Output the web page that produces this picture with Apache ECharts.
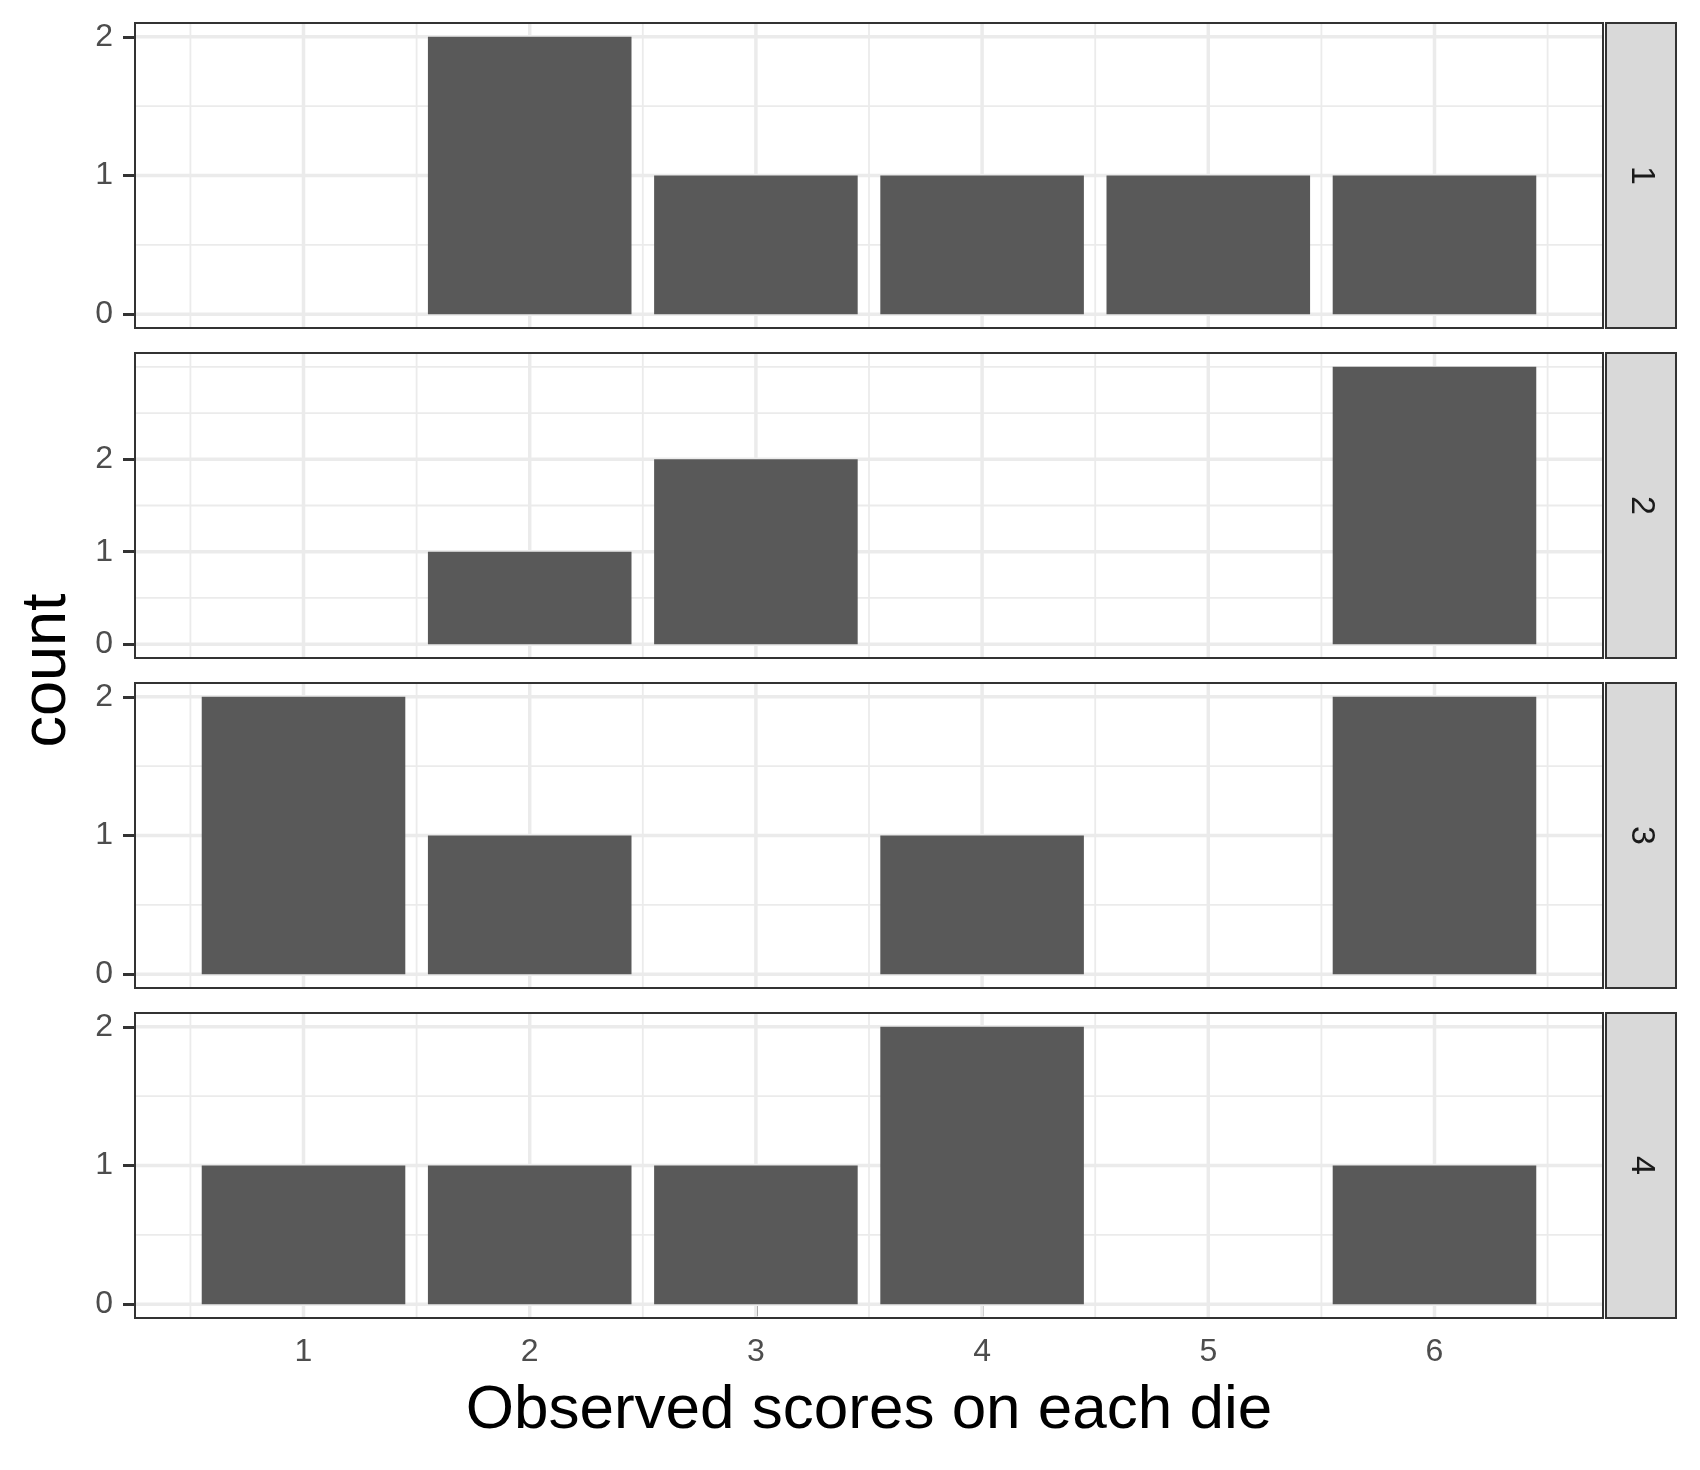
<!doctype html>
<html lang="en">
<head>
    <meta charset="UTF-8">
    <title>Observed scores on each die</title>
    <script src="https://cdn.jsdelivr.net/npm/echarts@6/dist/echarts.min.js"></script>
    <style>
        html, body { margin: 0; padding: 0; background: #fff; }
        #main { width: 1700px; height: 1470px; }
    </style>
</head>
<body>
<div id="main"></div>
<script type="text/javascript">
    // data: counts of each score (1..6) for each die
    var scores = [1, 2, 3, 4, 5, 6];
    var dieLabels = ['1', '2', '3', '4'];
    var die1 = [0, 2, 1, 1, 1, 1];
    var die2 = [0, 1, 2, 0, 0, 3];
    var die3 = [2, 1, 0, 1, 0, 2];
    var die4 = [1, 1, 1, 2, 0, 1];
    var yTickLabels = [0, 1, 2];
    var xMinorBreaks = [0.5, 1.5, 2.5, 3.5, 4.5, 5.5, 6.5];

    var counts = [die1, die2, die3, die4];
    var font = "'Liberation Sans', Arial, Helvetica, sans-serif";

    // panel layout
    var left = 135, right = 97, panelH = 305;
    var tops = [23, 353, 683, 1013];
    var stripX = 1606, stripW = 70;

    var myChart = echarts.init(document.getElementById('main'));

    function gridRender(params, api) {
        var v = api.value(0), kind = api.value(1);
        var cs = params.coordSys;
        var shape;
        if (kind < 2) {
            var x = api.coord([v, 0])[0];
            shape = {x1: x, y1: cs.y + 1, x2: x, y2: cs.y + cs.height - 1};
        } else {
            var y = api.coord([1, v])[1];
            shape = {x1: cs.x + 1, y1: y, x2: cs.x + cs.width - 1, y2: y};
        }
        return {
            type: 'line',
            shape: shape,
            silent: true,
            style: {stroke: '#ebebeb', lineWidth: kind % 2 === 0 ? 3.5 : 1.8}
        };
    }

    function barRender(params, api) {
        var x = api.value(0), n = api.value(1);
        var a = api.coord([x - 0.45, n]);
        var b = api.coord([x + 0.45, 0]);
        return {
            type: 'rect',
            shape: {x: a[0], y: a[1], width: b[0] - a[0], height: b[1] - a[1]},
            style: {fill: '#595959'}
        };
    }

    var grids = [], xAxes = [], yAxes = [], series = [], graphics = [];

    for (var i = 0; i < counts.length; i++) {
        var ymax = Math.max.apply(null, counts[i]);
        var last = i === counts.length - 1;

        grids.push({
            left: left, right: right, top: tops[i], height: panelH,
            show: true, borderColor: '#333333', borderWidth: 2,
            backgroundColor: 'transparent', outerBoundsMode: 'none'
        });

        xAxes.push({
            type: 'value', gridIndex: i, min: 0.255, max: 6.745,
            axisLine: {show: false},
            splitLine: {show: false},
            axisTick: {
                show: last, customValues: scores, length: 12,
                lineStyle: {color: '#333333', width: 3}
            },
            axisLabel: {
                show: last, customValues: scores, margin: 18,
                fontSize: 32, color: '#4d4d4d', fontFamily: font
            }
        });

        yAxes.push({
            type: 'value', gridIndex: i, min: -0.05 * ymax, max: 1.05 * ymax,
            axisLine: {show: false},
            splitLine: {show: false},
            axisTick: {
                show: true, customValues: yTickLabels, length: 12,
                lineStyle: {color: '#333333', width: 3}
            },
            axisLabel: {
                customValues: yTickLabels, margin: 22,
                fontSize: 32, color: '#4d4d4d', fontFamily: font
            }
        });

        // background grid lines: kind 0 x major, 1 x minor, 2 y major, 3 y minor
        var lines = [];
        xMinorBreaks.forEach(function (v) { lines.push([v, 1]); });
        var yMinor = [];
        for (var m = 0.5; m <= ymax; m += 1) { yMinor.push(m); }
        if (ymax > yTickLabels[yTickLabels.length - 1]) { yMinor.push(ymax); }
        yMinor.forEach(function (v) { lines.push([v, 3]); });
        scores.forEach(function (v) { lines.push([v, 0]); });
        yTickLabels.forEach(function (v) { lines.push([v, 2]); });

        series.push({
            type: 'custom', xAxisIndex: i, yAxisIndex: i, z: 1, silent: true,
            renderItem: gridRender, data: lines, animation: false
        });

        var bars = [];
        scores.forEach(function (s, k) {
            if (counts[i][k] > 0) { bars.push([s, counts[i][k]]); }
        });
        series.push({
            type: 'custom', xAxisIndex: i, yAxisIndex: i, z: 2,
            renderItem: barRender, data: bars, encode: {x: 0, y: 1}, animation: false
        });

        // facet strip on the right
        graphics.push({
            type: 'rect', shape: {x: stripX, y: tops[i], width: stripW, height: panelH},
            style: {fill: '#d9d9d9', stroke: '#333333', lineWidth: 2}, silent: true
        });
        graphics.push({
            type: 'text', x: stripX + stripW / 2, y: tops[i] + panelH / 2, rotation: -Math.PI / 2,
            style: {
                text: dieLabels[i], fontSize: 34, fontFamily: font, fill: '#1a1a1a',
                align: 'center', verticalAlign: 'middle'
            }, silent: true
        });
    }

    // axis titles
    graphics.push({
        type: 'text', x: left + (1700 - left - right) / 2, y: 1411,
        style: {
            text: 'Observed scores on each die', fontSize: 62, fontFamily: font, fill: '#000000',
            align: 'center', verticalAlign: 'middle'
        }
    });
    graphics.push({
        type: 'text', x: 48, y: (tops[0] + tops[3] + panelH) / 2, rotation: Math.PI / 2,
        style: {
            text: 'count', fontSize: 63, fontFamily: font, fill: '#000000',
            align: 'center', verticalAlign: 'middle'
        }
    });

    myChart.setOption({
        backgroundColor: '#ffffff',
        animation: false,
        grid: grids,
        xAxis: xAxes,
        yAxis: yAxes,
        series: series,
        graphic: {elements: graphics}
    });
</script>
</body>
</html>
